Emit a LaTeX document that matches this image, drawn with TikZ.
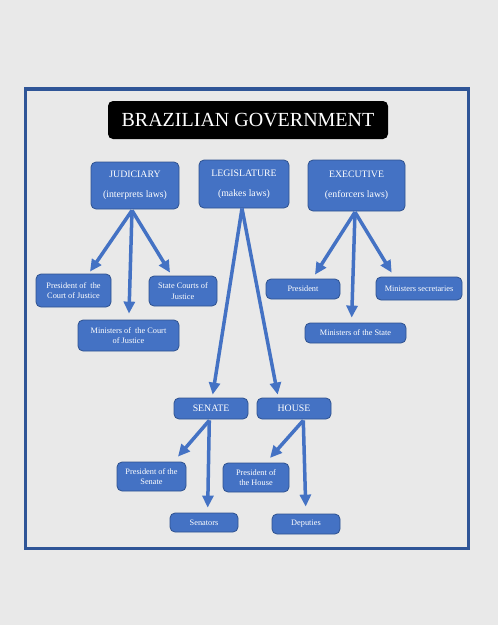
\documentclass[tikz,border=0pt]{standalone}
\usepackage{fontspec}
\setmainfont{Liberation Serif}
\usetikzlibrary{arrows.meta}
\definecolor{bg}{HTML}{E9E9E9}
\definecolor{frame}{HTML}{2F5597}
\definecolor{boxfill}{HTML}{4472C4}
\definecolor{boxdraw}{HTML}{2F528F}
\tikzset{
  box/.style={draw=boxdraw, fill=boxfill, line width=0.8pt, rounded corners=5pt,
    text=white, align=center, inner sep=0pt},
  bigbox/.style={box, font=\fontsize{9.8}{20}\selectfont},
  smallbox/.style={box, font=\fontsize{8.3}{10.5}\selectfont},
  midbox/.style={box, font=\fontsize{9.8}{12}\selectfont},
  arr/.style={draw=boxfill, line width=3.5pt, -{Triangle[length=12pt,width=11pt]}},
}
\begin{document}
\begin{tikzpicture}[x=1pt,y=-1pt]
\useasboundingbox (0,0) rectangle (498,625);
\fill[bg] (0,0) rectangle (498,625);
\draw[frame, line width=3.5pt] (25.5,89) rectangle (468.5,548.5);

\node[fill=black, rounded corners=5pt, text=white, minimum width=280pt, minimum height=38pt,
  font=\fontsize{20}{24}\selectfont, inner sep=0pt] (title) at (248,120) {BRAZILIAN GOVERNMENT};

\node[bigbox, minimum width=88pt, minimum height=47pt] (jud) at (135,185.5) {JUDICIARY\\(interprets laws)};
\node[bigbox, minimum width=90pt, minimum height=48pt] (leg) at (244,184) {LEGISLATURE\\(makes laws)};
\node[bigbox, minimum width=97pt, minimum height=51pt] (exe) at (356.5,185.5) {EXECUTIVE\\(enforcers laws)};

\node[smallbox, minimum width=75pt, minimum height=33pt] (pcj) at (73.5,290.5) {President of\ \ the\\Court of Justice};
\node[smallbox, minimum width=101pt, minimum height=31pt] (mcj) at (128.5,335.5) {Ministers of\ \ the Court\\of Justice};
\node[smallbox, minimum width=68pt, minimum height=30pt] (scj) at (183,291) {State Courts of\\Justice};

\node[smallbox, minimum width=74pt, minimum height=20pt] (pres) at (303,289) {President};
\node[smallbox, minimum width=86pt, minimum height=23pt] (minsec) at (419,288.5) {Ministers secretaries};
\node[smallbox, minimum width=101pt, minimum height=20pt] (minst) at (355.5,333) {Ministers of the State};

\node[midbox, minimum width=74pt, minimum height=21pt] (senate) at (211,408.5) {SENATE};
\node[midbox, minimum width=74pt, minimum height=21pt] (house) at (294,408.5) {HOUSE};

\node[smallbox, minimum width=69pt, minimum height=29pt] (psen) at (151.5,476.5) {President of the\\Senate};
\node[smallbox, minimum width=66pt, minimum height=29pt] (phouse) at (256,477.5) {President of\\the House};
\node[smallbox, minimum width=68pt, minimum height=19pt] (senators) at (204,522.5) {Senators};
\node[smallbox, minimum width=68pt, minimum height=20pt] (deputies) at (306,524) {Deputies};

% Judiciary
\draw[arr] ([xshift=-3pt,yshift=-1pt]jud.south) -- ([xshift=16.5pt,yshift=2pt]pcj.north);
\draw[arr] ([xshift=-3pt,yshift=-1pt]jud.south) -- ([xshift=0.5pt,yshift=6pt]mcj.north);
\draw[arr] ([xshift=-3pt,yshift=-1pt]jud.south) -- ([xshift=-13pt,yshift=3pt]scj.north);
% Legislature
\draw[arr] ([xshift=-2pt]leg.south) -- ([xshift=1.7pt,yshift=3pt]senate.north);
\draw[arr] ([xshift=-2pt]leg.south) -- ([xshift=-16.3pt,yshift=3pt]house.north);
% Executive
\draw[arr] ([xshift=-1.5pt,yshift=-0.7pt]exe.south) -- ([xshift=12pt,yshift=4pt]pres.north);
\draw[arr] ([xshift=-1.5pt,yshift=-0.7pt]exe.south) -- ([xshift=-3.8pt,yshift=5pt]minst.north);
\draw[arr] ([xshift=-1.5pt,yshift=-0.7pt]exe.south) -- ([xshift=-27.3pt,yshift=4pt]minsec.north);
% Senate
\draw[arr] ([xshift=-1.7pt,yshift=-1pt]senate.south) -- ([xshift=26.5pt,yshift=5pt]psen.north);
\draw[arr] ([xshift=-1.7pt,yshift=-1pt]senate.south) -- ([xshift=3.7pt,yshift=5pt]senators.north);
% House
\draw[arr] ([xshift=9.3pt,yshift=-1pt]house.south) -- ([xshift=14pt,yshift=4.7pt]phouse.north);
\draw[arr] ([xshift=9.3pt,yshift=-1pt]house.south) -- ([xshift=-0.3pt,yshift=7pt]deputies.north);
\end{tikzpicture}
\end{document}
